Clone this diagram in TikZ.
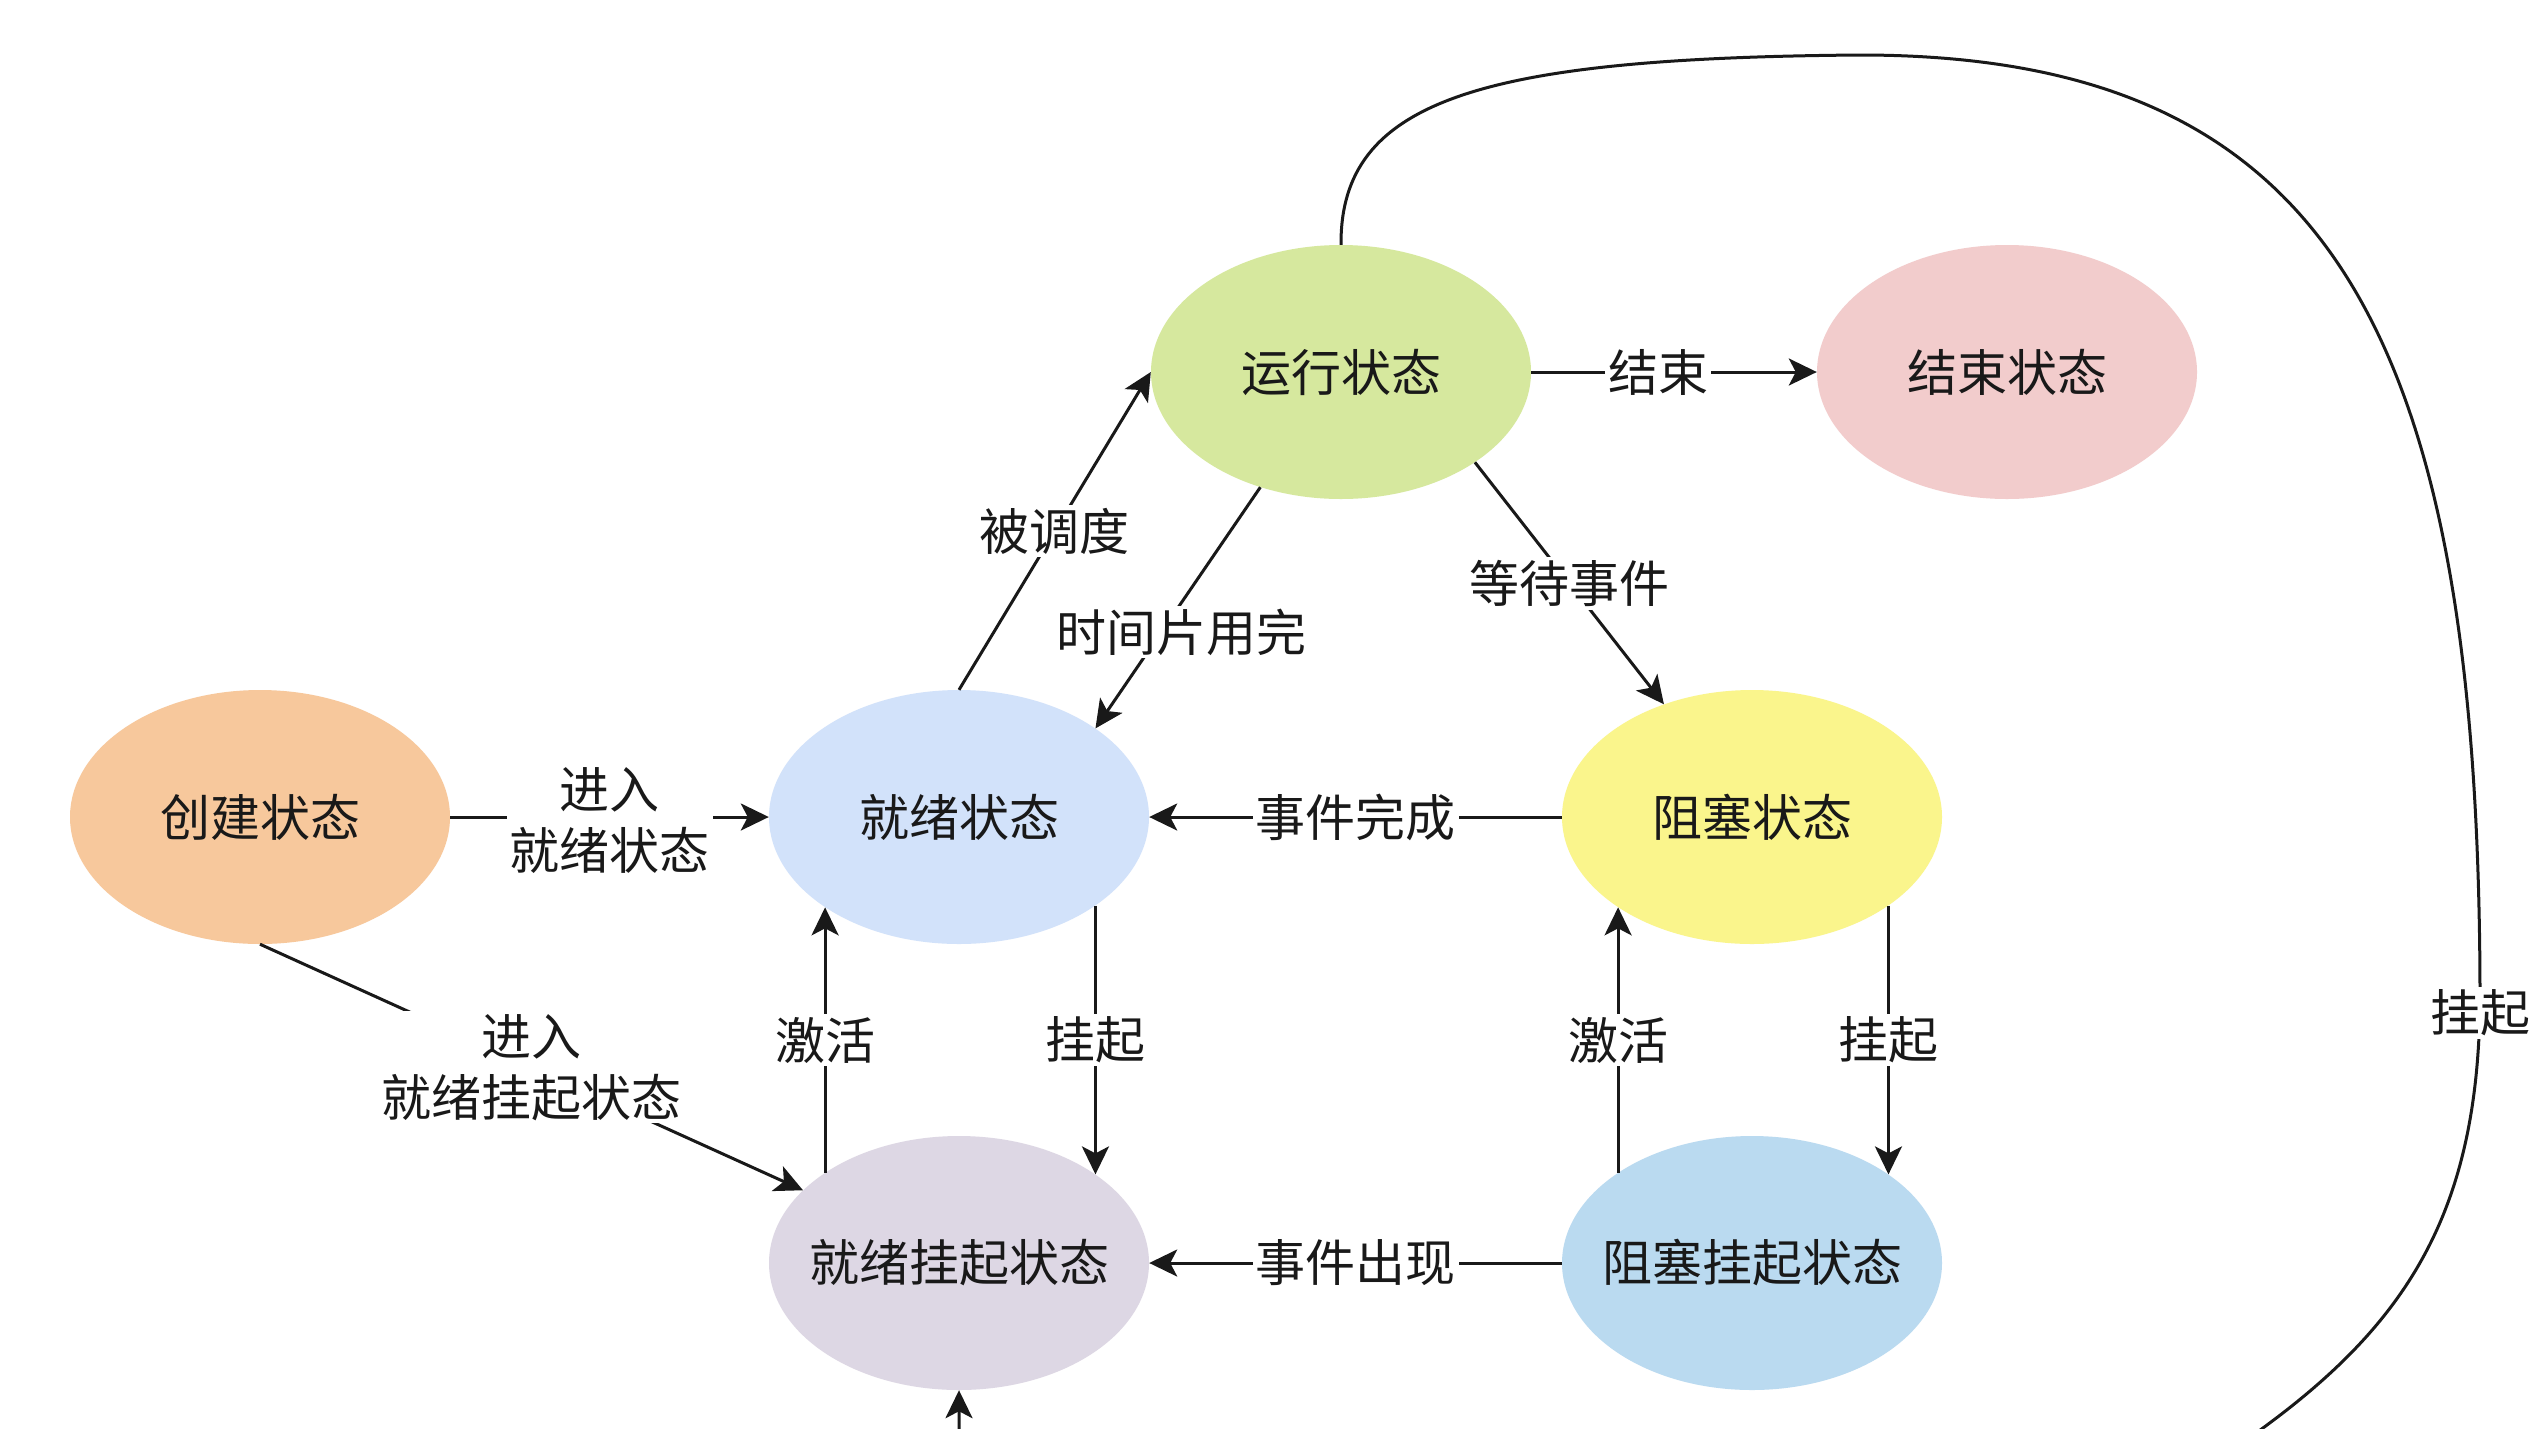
\documentclass[tikz,border=0pt]{standalone}
\usepackage{fontspec}
\newfontfamily\cjk{Noto Sans CJK SC}
\usetikzlibrary{arrows.meta,shapes.geometric}
\definecolor{cRun}{RGB}{214,232,158}
\definecolor{cEnd}{RGB}{242,204,204}
\definecolor{cCreate}{RGB}{247,200,156}
\definecolor{cReady}{RGB}{210,226,250}
\definecolor{cBlock}{RGB}{250,245,140}
\definecolor{cRS}{RGB}{221,215,228}
\definecolor{cBS}{RGB}{186,218,240}
\definecolor{ink}{RGB}{25,25,25}
\begin{document}
\begin{tikzpicture}[x=1pt,y=-1pt,
  state/.style={ellipse, draw=none, minimum width=380pt, minimum height=254pt, inner sep=0pt, text=ink,
    font=\cjk\fontsize{50}{60}\selectfont},
  lbl/.style={fill=white, inner sep=3pt, text=ink, align=center, font=\cjk\fontsize{50}{61}\selectfont},
  conn/.style={draw=ink, line width=3pt, -{Stealth[length=28pt,width=27pt,inset=7pt]}}
]
\useasboundingbox (0,0) rectangle (2548,1428);
\fill[white] (0,0) rectangle (2548,1428);

\node[state, fill=cRun]    (run)    at (1341,372)  {\makebox[0pt]{运行状态}};
\node[state, fill=cEnd]    (fin)    at (2007,372)  {\makebox[0pt]{结束状态}};
\node[state, fill=cCreate] (create) at (260,817)   {\makebox[0pt]{创建状态}};
\node[state, fill=cReady]  (ready)  at (959,817)   {\makebox[0pt]{就绪状态}};
\node[state, fill=cBlock]  (block)  at (1752,817)  {\makebox[0pt]{阻塞状态}};
\node[state, fill=cRS]     (rs)     at (959,1263)  {\makebox[0pt]{就绪挂起状态}};
\node[state, fill=cBS]     (bs)     at (1752,1263) {\makebox[0pt]{阻塞挂起状态}};

% create -> ready
\draw[conn] (create.east) -- node[lbl, pos=0.50, yshift=-4pt] {进入\\就绪状态} (ready.west);
% run -> end
\draw[conn] (run.east) -- node[lbl, xshift=-16pt] {结束} (fin.west);
% ready -> run
\draw[conn] (ready.north) -- node[lbl] {被调度} (run.west);
% run -> ready
\draw[conn] (run.235) -- node[lbl, pos=0.6, xshift=20pt] {时间片用完} (ready.33);
% run -> block
\draw[conn] (run.-34) -- node[lbl] {等待事件} (block.128.5);
% block -> ready
\draw[conn] (block.west) -- node[lbl] {事件完成} (ready.east);
% bs -> rs
\draw[conn] (bs.west) -- node[lbl] {事件出现} (rs.east);
% ready <-> rs
\draw[conn] (ready.-33.4) -- node[lbl] {挂起} (rs.33.4);
\draw[conn] (rs.146.6) -- node[lbl] {激活} (ready.-146.6);
% block <-> bs
\draw[conn] (block.-33.4) -- node[lbl] {挂起} (bs.33.4);
\draw[conn] (bs.146.6) -- node[lbl] {激活} (block.-146.6);
% create -> rs
\draw[conn] (create.south) -- node[lbl] {进入\\就绪挂起状态} (rs.155.5);

% run -> rs (around, partly outside the picture)
\begin{scope}
\clip (0,0) rectangle (2548,1428);
\draw[conn] (run.north) .. controls (1340,100) and (1480,58) .. (1860,55)
  .. controls (2330,55) and (2480,330) .. (2480,1000) coordinate (hang)
  .. controls (2478,1250) and (2380,1360) .. (2170,1490)
  .. controls (1800,1680) and (959,1700) .. (959,1500) -- (rs.south);
\end{scope}
\node[lbl] (hanglbl) at ([yshift=-13pt]hang) {挂起};
\end{tikzpicture}
\end{document}
